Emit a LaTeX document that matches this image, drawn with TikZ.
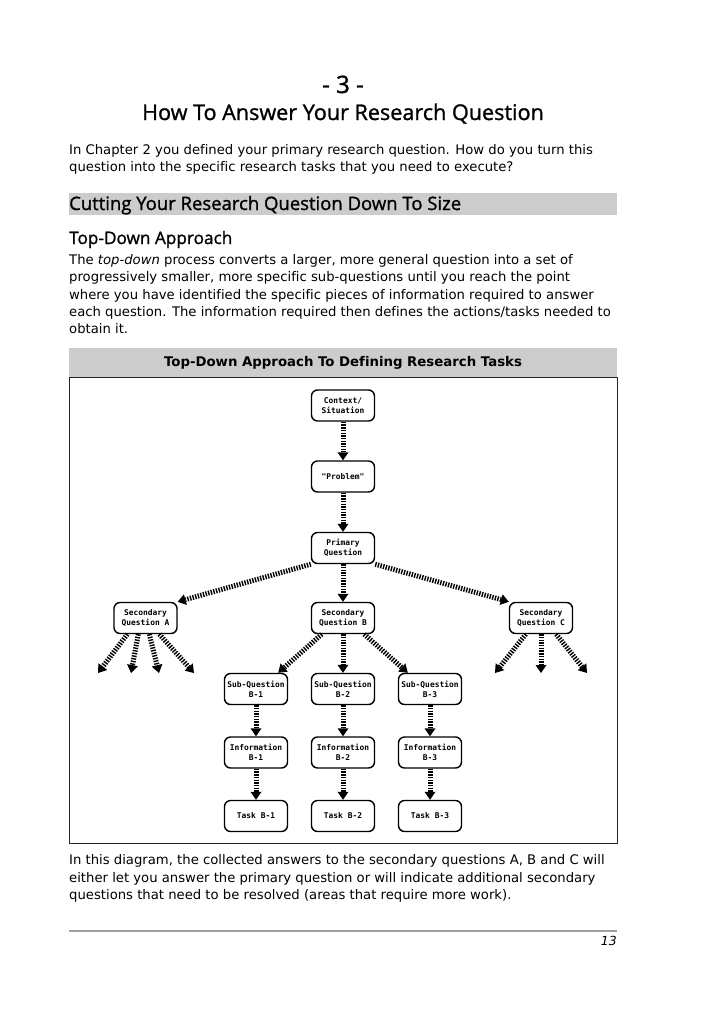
\documentclass[tikz,border=0pt]{standalone}
\usepackage{fontspec}
\setmainfont{DejaVu Sans}[Ligatures={NoCommon}]
\newfontfamily\headfont{Open Sans}[FakeBold=1.2]
\newfontfamily\boxfont{DejaVu Sans Mono}
\usetikzlibrary{arrows.meta,positioning}

\definecolor{bannergray}{HTML}{CCCCCC}
\definecolor{rulegray}{HTML}{A0A0A0}

\begin{document}
\begin{tikzpicture}[x=1pt,y=-1pt,
        box/.style={draw, line width=1.4pt, rounded corners=6pt, minimum width=63pt,
            minimum height=31pt, inner sep=1pt, align=center,
            font=\boxfont\bfseries\fontsize{7.9}{9.8}\selectfont},
        stripe/.style={line width=5pt, dash pattern=on 1.4pt off 1.3pt,
            -{Triangle[width=11pt,length=8pt,line width=0pt]}},
        txt/.style={anchor=base west, inner sep=0pt, font=\fontsize{13.2}{15}\selectfont}]
        \useasboundingbox[fill=white] (0,0) rectangle (719,1017);

        % Chapter heading
        \node[anchor=base, inner sep=0pt, font=\headfont\fontsize{24}{26}\selectfont] (chap) at (343,93) {- 3 -};
        \node[anchor=base, inner sep=0pt, font=\headfont\fontsize{21.6}{24}\selectfont] (title) at (343,120) {How To Answer Your Research Question};

        % Intro
        \node[txt] (intro1) at (69,154.5) {In Chapter 2 you defined your primary research question. How do you turn this};
        \node[txt] (intro2) at (69,171.8) {question into the specific research tasks that you need to execute?};

        % Section banner
        \fill[bannergray] (69,193) rectangle (617,215);
        \node[anchor=base west, inner sep=0pt, font=\headfont\fontsize{18.5}{20}\selectfont] (sect) at (69,210) {Cutting Your Research Question Down To Size};
        \node[anchor=base west, inner sep=0pt, font=\headfont\fontsize{17.2}{18}\selectfont] (subsect) at (69,244) {Top-Down Approach};

        \node[txt] (par1) at (69,264.5) {The \textit{top-down} process converts a larger, more general question into a set of};
        \node[txt] (par2) at (69,281.8) {progressively smaller, more specific sub-questions until you reach the point};
        \node[txt] (par3) at (69,299.1) {where you have identified the specific pieces of information required to answer};
        \node[txt] (par4) at (69,316.4) {each question. The information required then defines the actions/tasks needed to};
        \node[txt] (par5) at (69,333.7) {obtain it.};

        % Diagram frame
        \fill[bannergray] (69,348) rectangle (617,376.5);
        \node[anchor=base, inner sep=0pt, font=\bfseries\fontsize{13.3}{14}\selectfont] (cap) at (343,366.5) {Top-Down Approach To Defining Research Tasks};
        \draw[line width=0.9pt, black!85] (69,377) rectangle (617,843);

        % Nodes
        \node[box] (ctx) at (343,405.5) {Context/\\Situation};
        \node[box] (prob) at (343,476.5) {"Problem"};
        \node[box] (prim) at (343,548) {Primary\\Question};
        \node[box] (secA) at (145.5,618) {Secondary\\Question A};
        \node[box] (secB) at (343,618) {Secondary\\Question B};
        \node[box] (secC) at (541,618) {Secondary\\Question C};
        \node[box] (sub1) at (256,689) {Sub-Question\\B-1};
        \node[box] (sub2) at (343,689) {Sub-Question\\B-2};
        \node[box] (sub3) at (430,689) {Sub-Question\\B-3};
        \node[box] (info1) at (256,752.5) {Information\\B-1};
        \node[box] (info2) at (343,752.5) {Information\\B-2};
        \node[box] (info3) at (430,752.5) {Information\\B-3};
        \node[box] (task1) at (256,816) {Task B-1};
        \node[box] (task2) at (343,816) {Task B-2};
        \node[box] (task3) at (430,816) {Task B-3};

        % Open ends below A and C
        \coordinate (a1) at (98,673);
        \coordinate (a2) at (131,673);
        \coordinate (a3) at (159,673);
        \coordinate (a4) at (194,673);
        \coordinate (c1) at (495,673);
        \coordinate (c2) at (541,673);
        \coordinate (c3) at (587,673);

        % Connectors
        \draw[stripe] (ctx) -- (prob);
        \draw[stripe] (prob) -- (prim);
        \draw[stripe] (prim.south west) -- (secA.north east);
        \draw[stripe] (prim) -- (secB);
        \draw[stripe] (prim.south east) -- (secC.north west);
        \draw[stripe] ([xshift=14pt]secA.south west) -- (a1);
        \draw[stripe] ([xshift=25pt]secA.south west) -- (a2);
        \draw[stripe] ([xshift=36pt]secA.south west) -- (a3);
        \draw[stripe] ([xshift=46pt]secA.south west) -- (a4);
        \draw[stripe] ([xshift=17pt]secC.south west) -- (c1);
        \draw[stripe] (secC) -- (c2);
        \draw[stripe] ([xshift=-17pt]secC.south east) -- (c3);
        \draw[stripe] ([xshift=11pt]secB.south west) -- ([xshift=-10pt]sub1.north east);
        \draw[stripe] (secB) -- (sub2);
        \draw[stripe] ([xshift=-11pt]secB.south east) -- ([xshift=10pt]sub3.north west);
        \draw[stripe] (sub1) -- (info1);
        \draw[stripe] (sub2) -- (info2);
        \draw[stripe] (sub3) -- (info3);
        \draw[stripe] (info1) -- (task1);
        \draw[stripe] (info2) -- (task2);
        \draw[stripe] (info3) -- (task3);

        % Closing text
        \node[txt] (end1) at (69,864.5) {In this diagram, the collected answers to the secondary questions A, B and C will};
        \node[txt] (end2) at (69,882) {either let you answer the primary question or will indicate additional secondary};
        \node[txt] (end3) at (69,899.5) {questions that need to be resolved (areas that require more work).};

        % Footer
        \draw[rulegray, line width=1.5pt] (69,931) -- (617,931);
        \node[anchor=base east, inner sep=0pt, font=\itshape\fontsize{12.5}{14}\selectfont] (pg) at (617,945.5) {13};
    \end{tikzpicture}
\end{document}
